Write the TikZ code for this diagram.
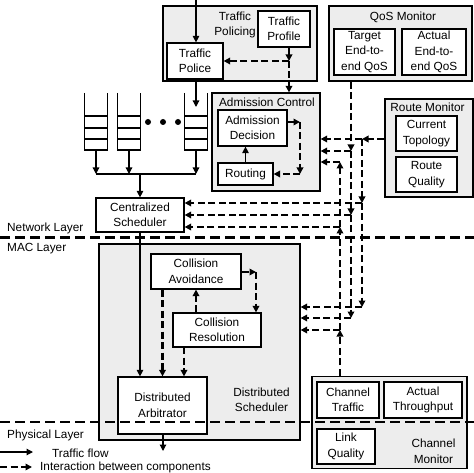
\documentclass[tikz,border=0pt]{standalone}
\usepackage{fontspec}
\setmainfont{Liberation Sans}
\usetikzlibrary{arrows.meta}
\tikzset{
	box/.style={draw, line width=1.2pt, fill=white, align=center, inner sep=0pt},
	group/.style={draw, line width=1.2pt, fill=black!7, inner sep=0pt},
	lbl/.style={align=center, inner sep=0pt},
	flow/.style={line width=1.2pt, -{Triangle[length=6.5pt,width=6.5pt]}},
	link/.style={line width=2.2pt, dash pattern=on 7pt off 3.5pt, -{Triangle[length=6.5pt,width=6.5pt]}},
	netline/.style={line width=3pt, dash pattern=on 10pt off 5pt},
	phyline/.style={line width=2.2pt, dash pattern=on 10pt off 5pt},
}

\begin{document}
\begin{tikzpicture}[x=1pt, y=-1pt, font=\fontsize{11.8}{15.5}\selectfont]
			%%%%% START %%%%%
			\useasboundingbox (0,0) rectangle (474,473);
			
			% groups
			\node[group, minimum width=154pt, minimum height=75pt] (policing) at (240,43.5) {};
			\node[group, minimum width=108pt, minimum height=98pt] (ac) at (266,142) {};
			\node[group, minimum width=143pt, minimum height=75pt] (qos) at (400.5,43.5) {};
			\node[group, minimum width=88pt, minimum height=98pt] (rm) at (429,148) {};
			\node[group, minimum width=201pt, minimum height=196pt] (ds) at (199.5,342) {};
			\node[group, minimum width=155pt, minimum height=92pt] (cm) at (389.5,422.5) {};
			
			\node[lbl] (policinglbl) at (235,25) {Traffic\\Policing};
			\node[lbl] (aclbl) at (267,102) {Admission Control};
			\node[lbl] (qoslbl) at (403,17) {QoS Monitor};
			\node[lbl] (rmlbl) at (427.5,107) {Route Monitor};
			\node[lbl] (dslbl) at (261.5,400) {Distributed\\Scheduler};
			\node[lbl] (cmlbl) at (433.5,451.5) {Channel\\Monitor};
			
			% components
			\node[box, minimum width=52pt, minimum height=36pt] (profile) at (284,29) {Traffic\\Profile};
			\node[box, minimum width=56pt, minimum height=36pt] (police) at (195,61) {Traffic\\Police};
			\node[box, minimum width=69pt, minimum height=36pt] (decision) at (252.5,128) {Admission\\Decision};
			\node[box, minimum width=55pt, minimum height=22pt] (routing) at (245.5,174) {Routing};
			\node[box, minimum width=61pt, minimum height=46pt] (target) at (364.5,52) {Target\\End-to-\\end QoS};
			\node[box, minimum width=64pt, minimum height=46pt] (actual) at (434,52) {Actual\\End-to-\\end QoS};
			\node[box, minimum width=61pt, minimum height=35pt] (topology) at (426.5,133.5) {Current\\Topology};
			\node[box, minimum width=61pt, minimum height=35pt] (quality) at (426.5,174.5) {Route\\Quality};
			\node[box, minimum width=88pt, minimum height=34pt] (cs) at (140,215) {Centralized\\Scheduler};
			\node[box, minimum width=90pt, minimum height=35pt] (ca) at (196,271.5) {Collision\\Avoidance};
			\node[box, minimum width=88pt, minimum height=34pt] (cr) at (217,330) {Collision\\Resolution};
			\node[box, minimum width=89pt, minimum height=57pt] (da) at (162.5,405.5) {Distributed\\Arbitrator};
			\node[box, minimum width=62pt, minimum height=36pt] (ct) at (348,400) {Channel\\Traffic};
			\node[box, minimum width=78pt, minimum height=36pt] (at) at (423,400) {Actual\\Throughput};
			\node[box, minimum width=58pt, minimum height=35pt] (lq) at (346,446.5) {Link\\Quality};
			
			% queues
			\foreach \i/\x in {1/96,2/129,3/196} {
				\draw[line width=1.2pt] (\x-11.5,93) -- (\x-11.5,150) -- (\x+11.5,150) -- (\x+11.5,93);
				\foreach \y in {116,128,139}
					\draw[line width=1.2pt] (\x-11.5,\y) -- (\x+11.5,\y);
				\coordinate (que\i) at (\x,150);
				\coordinate (mrg\i) at (\x,174);
				\draw[flow] (que\i) -- (mrg\i);
			}
			\foreach \x in {148,163,178}
				\fill (\x,122) circle (3);
			
			% traffic flow
			\coordinate (feed) at (196,0);
			\coordinate (qin) at (196,107);
			\coordinate (mrg) at (140,174);
			\coordinate (phy) at (163,451);
			\draw[flow] (feed) -- (feed |- police.north);
			\draw[flow] (police.south -| qin) -- (qin);
			\draw[line width=1.2pt] (mrg1) -- (mrg3);
			\draw[flow] (mrg) -- (mrg |- cs.north);
			\draw[flow] (cs.south) -- (cs.south |- da.north);
			\draw[flow] (da.south -| phy) -- (phy);
			\draw[flow] (routing.north) -- (routing.north |- decision.south);
			
			% interaction
			\coordinate (pj) at (289,61);
			\draw[link] (profile.south -| pj) -- (pj);
			\draw[link] (pj) -- (pj |- ac.north);
			\draw[link] (pj) -- (police.east);
			
			\coordinate (ad1) at (300,122);
			\coordinate (ad2) at (300,174);
			\draw[link] (decision.east |- ad1) -- (ad1);
			\draw[link] (ad1) -- (ad2);
			\draw[link] (ad2) -- (routing.east |- ad2);
			
			\coordinate (ca1) at (256,272);
			\coordinate (crd) at (184,347);
			\draw[link] (ca.east |- ca1) -- (ca1);
			\draw[link] (ca1) -- (ca1 |- cr.north);
			\draw[link] (cr.north -| ca.south) -- (ca.south);
			\draw[link] (ca.south -| da.north) -- (da.north);
			\draw[link] (crd) -- (crd |- da.north);
			
			% route monitor
			\coordinate (rt1) at (362,139);
			\coordinate (rt2) at (362,203);
			\coordinate (rt3) at (362,307);
			\draw[link] (rm.west |- rt1) -- (rt1);
			\draw[link] (rt1) -- (ac.east |- rt1);
			\draw[link] (rt1) -- (rt2);
			\draw[link] (rt2) -- (cs.east |- rt2);
			\draw[link] (rt2) -- (rt3);
			\draw[link] (rt3) -- (ds.east |- rt3);
			
			% qos monitor
			\coordinate (qs1) at (351,151);
			\coordinate (qs2) at (351,215);
			\coordinate (qs3) at (351,318);
			\draw[link] (qos.south -| qs1) -- (qs1);
			\draw[link] (qs1) -- (ac.east |- qs1);
			\draw[link] (qs1) -- (qs2);
			\draw[link] (qs2) -- (cs.east |- qs2);
			\draw[link] (qs2) -- (qs3);
			\draw[link] (qs3) -- (ds.east |- qs3);
			
			% channel monitor
			\coordinate (ch1) at (340,330);
			\coordinate (ch2) at (340,227);
			\coordinate (ch3) at (340,162);
			\draw[link] (cm.north -| ch1) -- (ch1);
			\draw[link] (ch1) -- (ds.east |- ch1);
			\draw[link] (ch1) -- (ch2);
			\draw[link] (ch2) -- (cs.east |- ch2);
			\draw[link] (ch2) -- (ch3);
			\draw[link] (ch3) -- (ac.east |- ch3);
			
			% layers
			\draw[netline] (0,238) -- (474,238);
			\draw[phyline] (0,422) -- (474,422);
			\node[anchor=west, inner sep=0pt] (netlbl) at (7,228) {Network Layer};
			\node[anchor=west, inner sep=0pt] (maclbl) at (7,249) {MAC Layer};
			\node[anchor=west, inner sep=0pt] (phylbl) at (7,435) {Physical Layer};
			
			% legend
			\coordinate (lg1) at (0,452);
			\coordinate (lg1e) at (33,452);
			\coordinate (lg2) at (0,467);
			\coordinate (lg2e) at (32,467);
			\draw[flow] (lg1) -- (lg1e);
			\draw[link] (lg2) -- (lg2e);
			\node[anchor=base west, inner sep=0pt] (lgflow) at (52,457) {Traffic flow};
			\node[anchor=base west, inner sep=0pt] (lglink) at (40,470) {Interaction between components};
			
			%%%%% END %%%%%
\end{tikzpicture}
\end{document}
